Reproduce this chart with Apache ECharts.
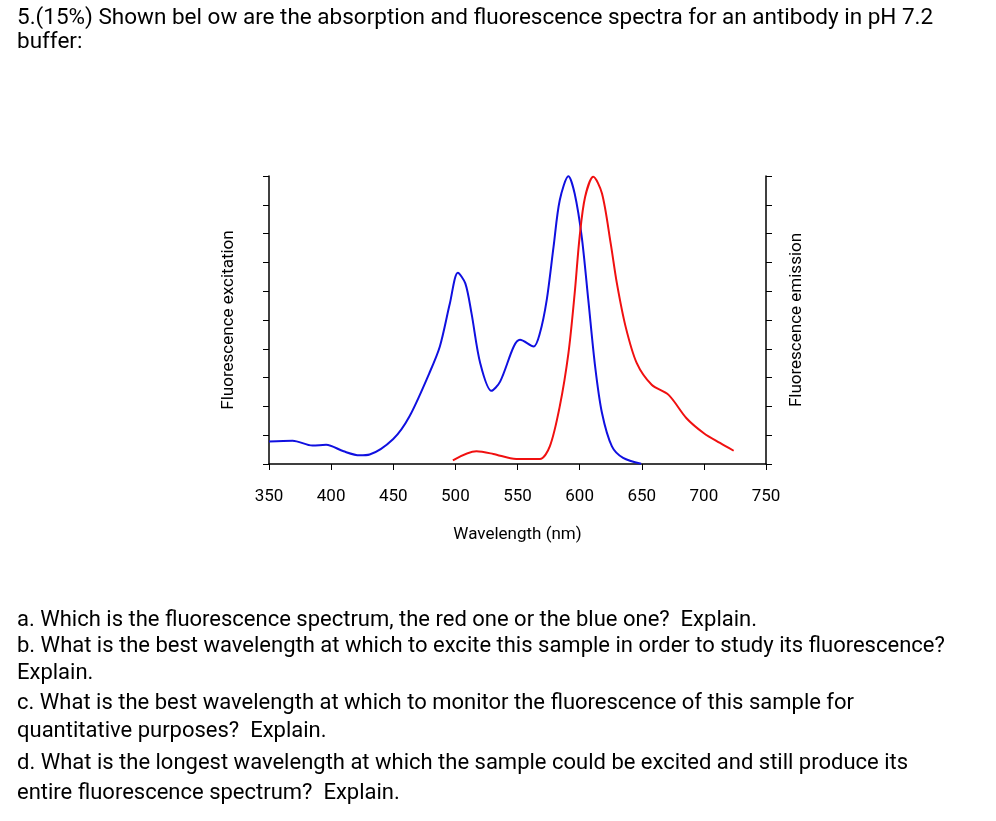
<!DOCTYPE html>
<html><head><meta charset="utf-8">
<script src="https://cdn.jsdelivr.net/npm/echarts@6/dist/echarts.min.js"></script>
<style>html,body{margin:0;padding:0;background:#fff}#c{width:996px;height:821px}</style>
</head><body><div id="c"></div>
<script>
const xTicks = [350,400,450,500,550,600,650,700,750];
const excitationWl = [350,369,385,396,410,423,431,450,463,479,487.5,495.6,502,508,513,520,529,536,547,552,563,568,573.5,579,584,591,596,601.7,607,612.5,618,626,635,649.5];
const excitationVal = [0.785,0.81,0.64,0.67,0.44,0.30,0.33,0.87,1.65,3.15,4.08,5.58,6.64,6.27,5.23,3.5,2.54,2.86,4.08,4.31,4.08,4.54,5.69,7.54,9.16,9.99,9.39,7.89,5.69,3.38,1.77,0.61,0.21,0.01];
const emissionWl = [498,517,530.5,549,568,576,584,591,596,600,604.4,611,618,625,630,637,646,658,671.6,686,700,713,724];
const emissionVal = [0.13,0.44,0.35,0.17,0.17,0.61,2.0,3.85,5.92,7.89,9.27,9.97,9.39,7.66,6.27,4.77,3.5,2.75,2.4,1.59,1.07,0.73,0.46];
const titleLines = ["5.(15%) Shown bel ow are the absorption and fluorescence spectra for an antibody in pH 7.2","buffer:"];
const questionLines = [
"a. Which is the fluorescence spectrum, the red one or the blue one?  Explain.",
"b. What is the best wavelength at which to excite this sample in order to study its fluorescence?",
"Explain.",
"c. What is the best wavelength at which to monitor the fluorescence of this sample for",
"quantitative purposes?  Explain.",
"d. What is the longest wavelength at which the sample could be excited and still produce its",
"entire fluorescence spectrum?  Explain."];
const qY = [622,648,675,705,733,765,795];
const FF = 'Roboto, "Noto Sans", sans-serif';
const graphics = [];
titleLines.forEach((t,i)=>graphics.push({type:'text',left:17,top:7+i*24,style:{text:t,font:'22.5px '+FF,fill:'#000'}}));
questionLines.forEach((t,i)=>graphics.push({type:'text',left:17,top:qY[i]-13,style:{text:t,font:'22px '+FF,fill:'#000'}}));
const ch = echarts.init(document.getElementById('c'));
const yCommon = {type:'value',min:0,max:10,interval:1,splitLine:{show:false},
  axisLine:{show:true,lineStyle:{color:'#000',width:1.5}},axisTick:{show:true,inside:false,length:6,lineStyle:{color:'#000'}},
  axisLabel:{show:false},nameLocation:'middle',nameTextStyle:{fontSize:17,fontFamily:FF,color:'#000'}};
ch.setOption({
  animation:false,
  grid:{left:269,right:230,top:176,bottom:357},
  graphic:graphics,
  xAxis:{type:'value',min:350,max:750,interval:50,
    axisLine:{lineStyle:{color:'#000',width:1.5}},axisTick:{length:6,lineStyle:{color:'#000'}},
    splitLine:{show:false},
    axisLabel:{fontSize:17,fontFamily:FF,color:'#000',margin:24},
    name:'Wavelength (nm)',nameLocation:'middle',nameGap:62,nameTextStyle:{fontSize:17,fontFamily:FF,color:'#000'}},
  yAxis:[Object.assign({},yCommon,{position:'left',name:'Fluorescence excitation',nameGap:32}),
         Object.assign({},yCommon,{position:'right',name:'Fluorescence emission',nameGap:22,nameRotate:90})],
  series:[
    {type:'line',yAxisIndex:0,smooth:0.3,showSymbol:false,lineStyle:{color:'#1010e0',width:2},
     data:excitationWl.map((w,i)=>[w,excitationVal[i]])},
    {type:'line',yAxisIndex:1,smooth:0.3,showSymbol:false,lineStyle:{color:'#f01010',width:2},
     data:emissionWl.map((w,i)=>[w,emissionVal[i]])}
  ]
});
</script></body></html>
